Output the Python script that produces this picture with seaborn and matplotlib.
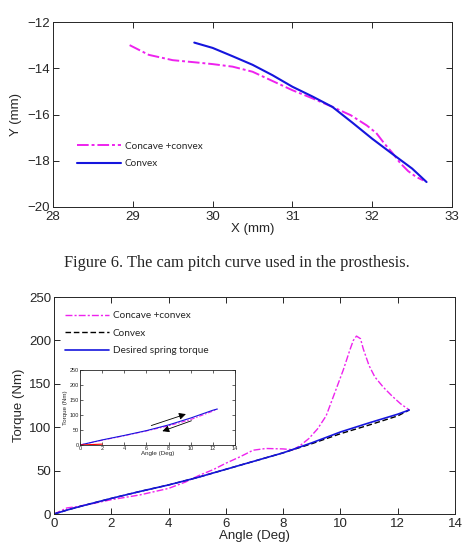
import seaborn as sns
import numpy as np
import matplotlib
matplotlib.use("Agg")
import matplotlib.pyplot as plt

# cam pitch curve (mm)
cam_x_cc = [28.96, 29.2, 29.5, 29.8, 30.0, 30.25, 30.5, 30.75, 31.0, 31.25, 31.5,
            31.73, 31.93, 32.05, 32.15, 32.25, 32.35, 32.45, 32.55, 32.64]
cam_y_cc = [-13.0, -13.42, -13.65, -13.75, -13.82, -13.93, -14.15, -14.55, -14.95, -15.3, -15.67,
            -16.03, -16.47, -16.8, -17.25, -17.65, -18.1, -18.45, -18.7, -18.85]
cam_x_cv = [29.77, 30.0, 30.25, 30.5, 30.75, 31.0, 31.25, 31.5, 31.75, 32.0, 32.25, 32.5, 32.68]
cam_y_cv = [-12.89, -13.12, -13.48, -13.85, -14.3, -14.8, -15.22, -15.67, -16.35, -17.05, -17.7, -18.34, -18.92]

# torque vs angle
angle_des = [0, 0.5, 1, 2, 3, 4, 5, 6, 7, 8, 9, 10, 11, 12, 12.4]
torque_des = [0, 5, 9.5, 18, 26, 33.5, 42, 51.5, 61, 70.5, 82, 94.5, 105, 115, 119.8]
torque_cvx = [0, 5, 9.5, 18, 26, 33.5, 42, 51.5, 61, 70.5, 81, 92.5, 102.5, 113, 119.8]
angle_cc = [0, 0.2, 0.45, 0.8, 1.2, 2.0, 3.0, 4.0, 4.6, 5.1, 5.55, 6.0, 6.5, 6.95, 7.4, 8.0,
            8.35, 8.6, 8.9, 9.2, 9.5, 9.75, 10.1, 10.33, 10.45, 10.56, 10.7, 10.8, 11.0, 11.2,
            11.5, 11.8, 12.1, 12.4]
torque_cc = [0, 3, 7, 8.5, 11, 16.5, 22, 29.5, 37, 45, 51, 58.5, 66, 73.5, 75.5, 75,
             74, 79, 87, 98, 113, 135, 166, 189, 200, 205, 202, 190, 171, 158,
             146, 136, 127, 120]

# inset (loading / unloading)
inset_angle = [0, 2, 4, 6, 8, 10, 12, 12.4]
inset_blue = [0, 17, 32, 48, 67, 90, 116, 120]
inset_mag = [0, 16, 31, 47, 64, 85, 113, 120]
arrow_up = ((6.2, 62), (9.8, 106))
arrow_down = ((10.3, 84), (7.2, 43))

sns.set_style("ticks")
plt.rcParams['font.family'] = ['Liberation Sans', 'DejaVu Sans']
plt.rcParams['xtick.direction'] = 'in'
plt.rcParams['ytick.direction'] = 'in'
plt.rcParams['xtick.top'] = True
plt.rcParams['ytick.right'] = True

MAG = '#ee22ee'
BLUE = '#1515dd'
leg_font = {'family': 'Lato', 'size': 7.2}

fig = plt.figure(figsize=(4.74, 5.56), dpi=100)

# ---- top: cam pitch curve
ax1 = fig.add_axes([0.1118, 0.6277, 0.842, 0.3327])
sns.lineplot(x=cam_x_cc, y=cam_y_cc, ax=ax1, sort=False, color=MAG, lw=1.4,
             label='Concave +convex')
ax1.lines[-1].set_dashes([6, 1.5, 1.5, 1.5])
sns.lineplot(x=cam_x_cv, y=cam_y_cv, ax=ax1, sort=False, color=BLUE, lw=1.5, label='Convex')
ax1.set_xlim(28, 33)
ax1.set_ylim(-20, -12)
ax1.set_xticks(range(28, 34))
ax1.set_yticks(range(-20, -11, 2))
ax1.set_xlabel('X (mm)', fontsize=9.5, labelpad=0)
ax1.set_ylabel('Y (mm)', fontsize=9.5, labelpad=4)
ax1.legend(loc='center left', bbox_to_anchor=(0.06, 0.281), frameon=False,
           borderaxespad=0, borderpad=0, handlelength=4.4, handletextpad=0.4,
           labelspacing=0.85, prop=leg_font)

fig.text(0.499, 0.527, 'Figure 6. The cam pitch curve used in the prosthesis.',
         ha='center', va='center', fontsize=11.8, family='Liberation Serif')

# ---- bottom: torque
ax2 = fig.add_axes([0.1139, 0.0755, 0.846, 0.3903])
sns.lineplot(x=angle_cc, y=torque_cc, ax=ax2, sort=False, color=MAG, lw=1.0,
             label='Concave +convex')
ax2.lines[-1].set_dashes([5, 1.5, 1.5, 1.5])
sns.lineplot(x=angle_des, y=torque_cvx, ax=ax2, sort=False, color='black', lw=1.0,
             label='Convex')
ax2.lines[-1].set_dashes([4, 2])
sns.lineplot(x=angle_des, y=torque_des, ax=ax2, sort=False, color=BLUE, lw=1.2,
             label='Desired spring torque')
ax2.set_xlim(0, 14)
ax2.set_ylim(0, 250)
ax2.set_xticks(range(0, 15, 2))
ax2.set_yticks(range(0, 251, 50))
ax2.set_xlabel('Angle (Deg)', fontsize=9.5, labelpad=0)
ax2.set_ylabel('Torque (Nm)', fontsize=9.5, labelpad=3)
ax2.legend(loc='center left', bbox_to_anchor=(0.027, 0.833), frameon=False,
           borderaxespad=0, borderpad=0, handlelength=4.4, handletextpad=0.4,
           labelspacing=0.85, prop=leg_font)

# ---- inset
ax3 = fig.add_axes([0.1688, 0.1996, 0.327, 0.1349])
sns.lineplot(x=inset_angle, y=inset_mag, ax=ax3, sort=False, color=MAG, lw=0.8)
ax3.lines[-1].set_dashes([4, 1.5, 1.5, 1.5])
sns.lineplot(x=inset_angle, y=inset_blue, ax=ax3, sort=False, color=BLUE, lw=0.8)
sns.lineplot(x=inset_angle[:2], y=[0, 3], ax=ax3, sort=False, color='red', lw=0.8)
for (x0, y0), (x1, y1) in (arrow_up, arrow_down):
    ax3.annotate('', xy=(x1, y1), xytext=(x0, y0),
                 arrowprops=dict(arrowstyle='-|>', color='black', lw=0.6,
                                 mutation_scale=10))
ax3.set_xlim(0, 14)
ax3.set_ylim(0, 250)
ax3.set_xticks(range(0, 15, 2))
ax3.set_yticks(range(0, 251, 50))
ax3.tick_params(labelsize=4, length=2, pad=1, width=0.5)
ax3.set_xlabel('Angle (Deg)', fontsize=4.5, labelpad=0)
ax3.set_ylabel('Torque (Nm)', fontsize=4.5, labelpad=1)
for s in ax3.spines.values():
    s.set_linewidth(0.6)

for ax in (ax1, ax2):
    ax.tick_params(labelsize=9.5, length=4, width=0.7, pad=2)
    ax.tick_params(axis='x', pad=3)
    for s in ax.spines.values():
        s.set_linewidth(0.7)

fig.savefig('out.png', dpi=100)
